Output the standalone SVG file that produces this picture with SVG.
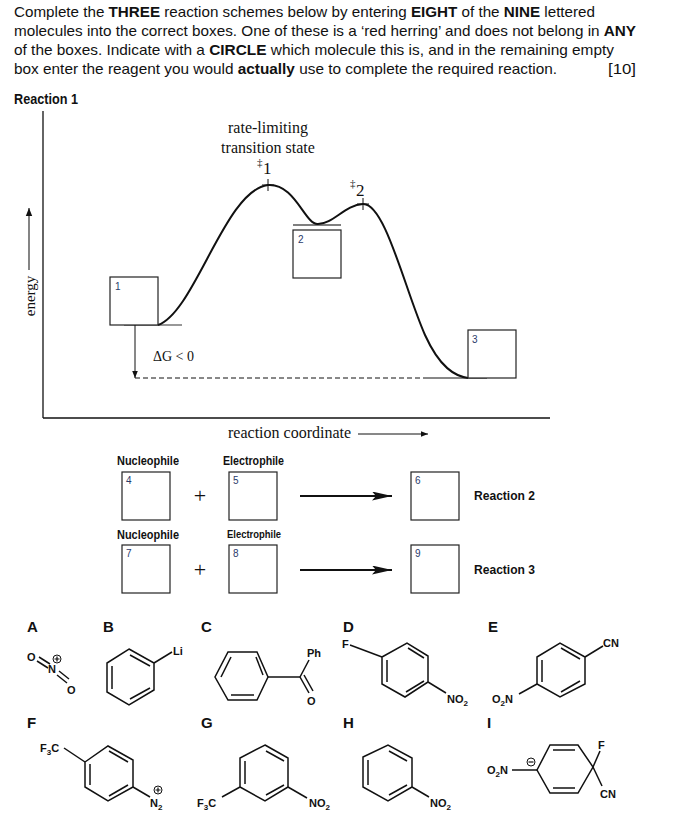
<svg xmlns="http://www.w3.org/2000/svg" width="682" height="833" viewBox="0 0 682 833">
<style>
.h{font-family:"Liberation Sans",Arial,sans-serif;font-size:15px;fill:#111}
.b{font-weight:bold}
.s{font-family:"Liberation Serif","Times New Roman",serif;font-size:16px;fill:#111}
.n{font-family:"Liberation Sans",Arial,sans-serif;font-size:10px;fill:#2a3a6a}
.lab{font-family:"Liberation Sans",Arial,sans-serif;font-size:12px;font-weight:bold;fill:#111}
.L{font-family:"Liberation Sans",Arial,sans-serif;font-size:15px;font-weight:bold;fill:#111}
.m{font-family:"Liberation Sans",Arial,sans-serif;font-size:11px;font-weight:bold;fill:#111}
.sub{font-size:8px}
.box{fill:#fff;stroke:#222;stroke-width:1.2}
.ln{stroke:#111;stroke-width:1.6;fill:none}
.bd{stroke:#111;stroke-width:1.5;fill:none}
</style>
<defs>
<marker id="ah" viewBox="0 0 10 10" refX="10" refY="5" markerWidth="7" markerHeight="7" orient="auto"><path d="M0,1 L10,5 L0,9 z" fill="#111"/></marker>
<marker id="ah2" viewBox="0 0 10 10" refX="10" refY="5" markerWidth="20" markerHeight="9" markerUnits="userSpaceOnUse" orient="auto" preserveAspectRatio="none"><path d="M0,0 L10,5 L0,10 L2,5 z" fill="#111"/></marker>
</defs>
<rect width="682" height="833" fill="#fff"/>
<g id="header">
<text class="h" x="14" y="17" textLength="581" lengthAdjust="spacingAndGlyphs">Complete the <tspan class="b">THREE</tspan> reaction schemes below by entering <tspan class="b">EIGHT</tspan> of the <tspan class="b">NINE</tspan> lettered</text>
<text class="h" x="14" y="36" textLength="622" lengthAdjust="spacingAndGlyphs">molecules into the correct boxes. One of these is a ‘red herring’ and does not belong in <tspan class="b">ANY</tspan></text>
<text class="h" x="14" y="55" textLength="600" lengthAdjust="spacingAndGlyphs">of the boxes. Indicate with a <tspan class="b">CIRCLE</tspan> which molecule this is, and in the remaining empty</text>
<text class="h" x="14" y="74" textLength="543" lengthAdjust="spacingAndGlyphs">box enter the reagent you would <tspan class="b">actually</tspan> use to complete the required reaction.</text>
<text class="h" x="608" y="74" textLength="28" lengthAdjust="spacingAndGlyphs">[10]</text>
<text class="h b" x="14" y="104" textLength="64" lengthAdjust="spacingAndGlyphs" style="font-size:14px">Reaction 1</text>
</g>
<g id="energy-diagram">
<line class="ln" x1="43" y1="111" x2="43" y2="418" style="stroke-width:1.3"/>
<line class="ln" x1="43" y1="418" x2="550" y2="418" style="stroke-width:1.3"/>
<text class="s" transform="translate(35,296) rotate(-90)" text-anchor="middle" style="font-size:15px">energy</text>
<line x1="29" y1="270" x2="29" y2="208" stroke="#333" stroke-width="1.2" marker-end="url(#ah)"/>
<line x1="124" y1="325" x2="182" y2="325" stroke="#333" stroke-width="1.2"/>
<line x1="293" y1="225" x2="341" y2="225" stroke="#555" stroke-width="1.5"/>
<line x1="135" y1="325" x2="135" y2="378" stroke="#111" stroke-width="1" marker-end="url(#ah)"/>
<line x1="135" y1="378" x2="430" y2="378" stroke="#111" stroke-width="1" stroke-dasharray="5,3"/>
<line x1="428" y1="378" x2="487" y2="378" stroke="#111" stroke-width="1"/>
<text class="s" x="153" y="361" style="font-size:14px">ΔG &lt; 0</text>
<path class="ln" d="M158,325 C195,312 225,190 268,185 C295,183 305,225 318,224 C333,224 345,205 363,204 C385,203 405,290 425,335 C440,368 455,376 468,378" style="stroke-width:2"/>
<line x1="268" y1="179" x2="268" y2="191" stroke="#111" stroke-width="1"/>
<line x1="262" y1="185" x2="274" y2="185" stroke="#111" stroke-width="1"/>
<line x1="363" y1="198" x2="363" y2="210" stroke="#111" stroke-width="1"/>
<line x1="357" y1="204" x2="369" y2="204" stroke="#111" stroke-width="1"/>
<text class="s" x="268" y="133" text-anchor="middle">rate-limiting</text>
<text class="s" x="268" y="153" text-anchor="middle">transition state</text>
<text class="s" x="257" y="166" style="font-size:11px">‡</text>
<text class="s" x="263" y="174" style="font-size:17px">1</text>
<text class="s" x="350" y="187" style="font-size:11px">‡</text>
<text class="s" x="356" y="196" style="font-size:17px">2</text>
<text class="s" x="228" y="438">reaction coordinate</text>
<line x1="358" y1="434" x2="428" y2="434" stroke="#111" stroke-width="1" marker-end="url(#ah)"/>
</g>
<g id="box1"><rect class="box" x="110" y="277" width="48" height="48"/><text class="n" x="115" y="290">1</text></g>
<g id="box2"><rect class="box" x="293" y="230" width="48" height="48"/><text class="n" x="298" y="243">2</text></g>
<g id="box3"><rect class="box" x="468" y="330" width="48" height="48"/><text class="n" x="472" y="343">3</text></g>
<g id="reaction2">
<text class="lab" x="117" y="465" textLength="62" lengthAdjust="spacingAndGlyphs">Nucleophile</text>
<text class="lab" x="223" y="465" textLength="61" lengthAdjust="spacingAndGlyphs">Electrophile</text>
<rect class="box" x="122" y="472" width="48" height="48"/><text class="n" x="126" y="484">4</text>
<rect class="box" x="229" y="472" width="48" height="48"/><text class="n" x="233" y="484">5</text>
<rect class="box" x="411" y="472" width="48" height="48"/><text class="n" x="415" y="484">6</text>
<text class="s" x="200" y="503" text-anchor="middle" style="font-size:22px">+</text>
<text class="lab" x="474" y="500" textLength="61" lengthAdjust="spacingAndGlyphs" style="font-size:13px">Reaction 2</text>
</g>
<g id="reaction3">
<text class="lab" x="117" y="539" textLength="62" lengthAdjust="spacingAndGlyphs">Nucleophile</text>
<text class="lab" x="227" y="538" textLength="54" lengthAdjust="spacingAndGlyphs" style="font-size:11px">Electrophile</text>
<rect class="box" x="122" y="545" width="48" height="48"/><text class="n" x="126" y="557">7</text>
<rect class="box" x="229" y="545" width="48" height="48"/><text class="n" x="233" y="557">8</text>
<rect class="box" x="411" y="545" width="48" height="48"/><text class="n" x="415" y="557">9</text>
<text class="s" x="200" y="577" text-anchor="middle" style="font-size:22px">+</text>
<text class="lab" x="474" y="574" textLength="61" lengthAdjust="spacingAndGlyphs" style="font-size:13px">Reaction 3</text>
</g>
<g id="connectors">
<line x1="300" y1="496" x2="392" y2="496" stroke="#111" stroke-width="2" marker-end="url(#ah2)"/>
<line x1="300" y1="570" x2="392" y2="570" stroke="#111" stroke-width="2" marker-end="url(#ah2)"/>
</g>
<g id="molA">
<text class="L" x="27" y="632">A</text>
<text class="m" x="27" y="661">O</text>
<line class="bd" x1="37" y1="661" x2="48" y2="668"/><line class="bd" x1="39" y1="657" x2="50" y2="664"/>
<text class="m" x="48" y="673">N</text>
<circle cx="57" cy="659" r="4" fill="none" stroke="#111" stroke-width="1"/><path d="M54.5,659h5M57,656.5v5" stroke="#111" stroke-width="1.2"/>
<line class="bd" x1="57" y1="675" x2="67" y2="683"/><line class="bd" x1="59" y1="671" x2="69" y2="679"/>
<text class="m" x="67" y="694">O</text>
</g>
<g id="molB">
<text class="L" x="103" y="632">B</text>
<polygon class="bd" points="129,649 154,663 154,690 129,705 107,692 107,663"/>
<line class="bd" x1="130" y1="655" x2="150" y2="666"/><line class="bd" x1="112" y1="666" x2="112" y2="689"/><line class="bd" x1="130" y1="699" x2="150" y2="688"/>
<line class="bd" x1="154" y1="663" x2="172" y2="652"/>
<text class="m" x="173" y="655">Li</text>
</g>
<g id="molC">
<text class="L" x="201" y="632">C</text>
<polygon class="bd" points="228,652 257,652 268,677 257,700 228,700 215,677"/>
<line class="bd" x1="221" y1="677" x2="231" y2="657"/><line class="bd" x1="256" y1="657" x2="263" y2="675"/><line class="bd" x1="231" y1="695" x2="254" y2="695"/>
<line class="bd" x1="268" y1="677" x2="300" y2="677"/>
<line class="bd" x1="300" y1="677" x2="309" y2="660"/>
<line class="bd" x1="300" y1="677" x2="309" y2="693"/><line class="bd" x1="304" y1="675" x2="313" y2="691"/>
<text class="m" x="307" y="657">Ph</text>
<text class="m" x="307" y="705">O</text>
</g>
<g id="molD">
<text class="L" x="343" y="632">D</text>
<text class="m" x="342" y="648">F</text>
<line class="bd" x1="350" y1="645" x2="382" y2="657"/>
<polygon class="bd" points="382,657 407,643 428,656 428,682 405,697 382,684"/>
<line class="bd" x1="387" y1="660" x2="387" y2="682"/><line class="bd" x1="408" y1="648" x2="424" y2="658"/><line class="bd" x1="406" y1="692" x2="424" y2="681"/>
<line class="bd" x1="428" y1="682" x2="446" y2="693"/>
<text class="m" x="447" y="703">NO<tspan class="sub" dy="3">2</tspan></text>
</g>
<g id="molE">
<text class="L" x="488" y="632">E</text>
<polygon class="bd" points="537,657 560,643 585,657 585,684 560,697 537,684"/>
<line class="bd" x1="542" y1="660" x2="542" y2="682"/><line class="bd" x1="561" y1="648" x2="580" y2="659"/><line class="bd" x1="561" y1="692" x2="580" y2="681"/>
<line class="bd" x1="585" y1="657" x2="603" y2="646"/>
<text class="m" x="603" y="647">CN</text>
<line class="bd" x1="537" y1="684" x2="519" y2="694"/>
<text class="m" x="492" y="703">O<tspan class="sub" dy="3">2</tspan><tspan dy="-3">N</tspan></text>
</g>
<g id="molF">
<text class="L" x="27" y="728">F</text>
<text class="m" x="40" y="752">F<tspan class="sub" dy="3">3</tspan><tspan dy="-3">C</tspan></text>
<line class="bd" x1="64" y1="748" x2="85" y2="762"/>
<polygon class="bd" points="85,762 108,746 133,760 133,787 108,801 85,787"/>
<line class="bd" x1="90" y1="764" x2="90" y2="785"/><line class="bd" x1="109" y1="751" x2="128" y2="762"/><line class="bd" x1="109" y1="796" x2="128" y2="785"/>
<line class="bd" x1="133" y1="787" x2="150" y2="797"/>
<text class="m" x="150" y="807">N<tspan class="sub" dy="3">2</tspan></text>
<circle cx="158" cy="790" r="4" fill="none" stroke="#111" stroke-width="1"/><path d="M155.5,790h5M158,787.5v5" stroke="#111" stroke-width="1.2"/>
</g>
<g id="molG">
<text class="L" x="201" y="728">G</text>
<polygon class="bd" points="265,745 288,758 288,787 265,801 240,787 240,758"/>
<line class="bd" x1="245" y1="761" x2="245" y2="784"/><line class="bd" x1="266" y1="751" x2="284" y2="761"/><line class="bd" x1="266" y1="795" x2="284" y2="785"/>
<line class="bd" x1="240" y1="787" x2="222" y2="797"/>
<text class="m" x="197" y="807">F<tspan class="sub" dy="3">3</tspan><tspan dy="-3">C</tspan></text>
<line class="bd" x1="288" y1="787" x2="307" y2="798"/>
<text class="m" x="309" y="807">NO<tspan class="sub" dy="3">2</tspan></text>
</g>
<g id="molH">
<text class="L" x="343" y="728">H</text>
<polygon class="bd" points="363,757 388,745 412,758 412,787 388,801 363,787"/>
<line class="bd" x1="368" y1="760" x2="368" y2="785"/><line class="bd" x1="389" y1="751" x2="407" y2="761"/><line class="bd" x1="389" y1="795" x2="407" y2="785"/>
<line class="bd" x1="412" y1="787" x2="429" y2="797"/>
<text class="m" x="430" y="807">NO<tspan class="sub" dy="3">2</tspan></text>
</g>
<g id="molI">
<text class="L" x="487" y="728">I</text>
<polygon class="bd" points="537,770 550,745 578,745 593,767 578,793 550,793"/>
<line class="bd" x1="553" y1="750" x2="575" y2="750"/><line class="bd" x1="553" y1="788" x2="575" y2="788"/>
<line class="bd" x1="512" y1="770" x2="537" y2="770"/>
<text class="m" x="487" y="774">O<tspan class="sub" dy="3">2</tspan><tspan dy="-3">N</tspan></text>
<circle cx="531" cy="762" r="4" fill="none" stroke="#111" stroke-width="1"/><path d="M528.5,762h5" stroke="#111" stroke-width="1.2"/>
<line class="bd" x1="593" y1="767" x2="600" y2="751"/>
<text class="m" x="598" y="749">F</text>
<line class="bd" x1="593" y1="767" x2="602" y2="786"/>
<text class="m" x="600" y="798">CN</text>
</g>
</svg>
